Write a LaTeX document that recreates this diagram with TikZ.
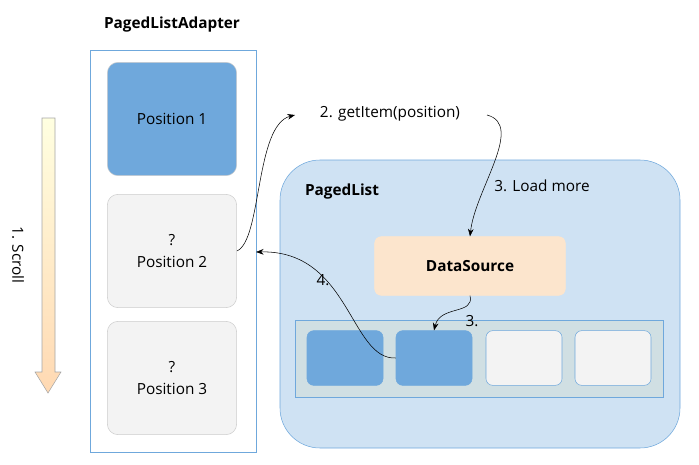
\documentclass[tikz,border=0pt]{standalone}
\usepackage{fontspec}
\setmainfont{Open Sans}
\usetikzlibrary{arrows.meta, positioning}

\definecolor{blueline}{HTML}{6FA8DC}
\definecolor{bluefill}{HTML}{6FA8DC}
\definecolor{listfill}{HTML}{CFE2F3}
\definecolor{grayfill}{HTML}{F3F3F3}
\definecolor{orangefill}{HTML}{FCE5CD}
\definecolor{stripfill}{HTML}{D0DFE3}

\newcommand{\txt}{\fontsize{11.5}{16}\selectfont}
\newcommand{\ttl}{\fontsize{11.5}{14}\selectfont\bfseries}

\begin{document}
\begin{tikzpicture}[
    x=0.75pt, y=-0.75pt,
    item/.style={rectangle, rounded corners=8pt, draw=gray!40, align=center, font=\txt, inner sep=0pt},
    cell/.style={rectangle, rounded corners=5pt, draw=blueline, inner sep=0pt, minimum width=57pt, minimum height=41pt},
    arrow/.style={-{Stealth[length=2mm]}, thin, draw=black},
    label/.style={font=\txt}
]
\useasboundingbox (0,0) rectangle (699,464);

% Adapter column
\node[font=\ttl] (adaptertitle) at (172,25) {PagedListAdapter};
\draw[blueline] (90,50) rectangle (256,452);
\node[item, fill=bluefill, minimum width=97pt, minimum height=85pt] (pos1) at (172,119) {Position 1};
\node[item, fill=grayfill, minimum width=97pt, minimum height=85pt] (pos2) at (172,251) {?\\Position 2};
\node[item, fill=grayfill, minimum width=97pt, minimum height=85pt] (pos3) at (172,378) {?\\Position 3};

% Scroll arrow
\draw[gray!70, top color=yellow!12, bottom color=orange!30]
    (42,118) -- (55,118) -- (55,372) -- (61,372) -- (48,393) -- (35,372) -- (42,372) -- cycle;
\node[label, rotate=-90] (scrolltext) at (18,255) {1. Scroll};

% PagedList
\draw[blueline, fill=listfill, rounded corners=30pt] (280,160) rectangle (680,448);
\node[font=\ttl] (listtitle) at (342,192) {PagedList};
\node[item, fill=orangefill, draw=orange!20, rounded corners=5pt, minimum width=143pt, minimum height=44pt, font=\ttl] (source) at (470,266) {DataSource};
\draw[blueline, fill=stripfill] (295,320) rectangle (663,397);
\node[cell, fill=bluefill] (cellA) at (345,358) {};
\node[cell, fill=bluefill] (cellB) at (434,358) {};
\node[cell, fill=grayfill] (cellC) at (524,358) {};
\node[cell, fill=grayfill] (cellD) at (613,358) {};

% Labels
\node[label] (getitem) at (390,114) {2. getItem(position)};
\node[label] (loadmore) at (542,186) {3. Load more};
\node[label] (three) at (472,321) {3.};
\node[label] (four) at (323,280) {4.};

% Arrows
\draw[arrow] (pos2.east) .. controls (262,240) and (255,125) .. (295,115);
\draw[arrow] (487,115) .. controls (525,125) and (475,190) .. (source.north);
\draw[arrow] (source.south) .. controls (475,315) and (440,305) .. (cellB.north);
\draw[arrow] (cellB.west) .. controls (350,360) and (350,250) .. (256,252);

\end{tikzpicture}
\end{document}
